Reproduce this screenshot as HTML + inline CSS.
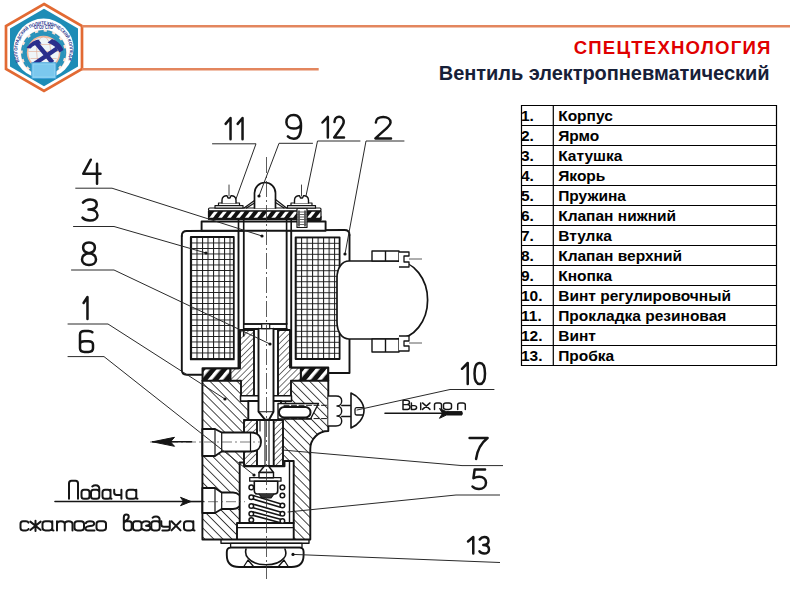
<!DOCTYPE html>
<html><head><meta charset="utf-8">
<style>
html,body{margin:0;padding:0;background:#fff;}
body{width:800px;height:600px;position:relative;overflow:hidden;font-family:"Liberation Sans",sans-serif;}
#art{position:absolute;left:0;top:0;}
.t1{position:absolute;right:28.4px;top:37.1px;font-weight:bold;font-size:18.6px;color:#e00000;letter-spacing:1.2px;white-space:nowrap;line-height:22px;}
.t2{position:absolute;right:30.5px;top:61.8px;font-weight:bold;font-size:20px;color:#172038;letter-spacing:-0.04px;white-space:nowrap;line-height:22px;}
#tbl{position:absolute;left:0;top:0;font-weight:bold;font-size:15.5px;color:#000;}
.r{position:absolute;left:0;height:20px;line-height:20px;white-space:nowrap;}
.r .n{position:absolute;left:521px;top:0;}
.r .v{position:absolute;left:558.2px;top:0;}
</style></head><body>
<svg id="art" width="800" height="600" viewBox="0 0 800 600">
<defs>
<pattern id="hb" patternUnits="userSpaceOnUse" width="6.4" height="6.4" patternTransform="rotate(-45)"><rect width="6.4" height="6.4" fill="#fff"/><line x1="0" y1="0" x2="0" y2="6.4" stroke="#1a1a1a" stroke-width="1.6"/></pattern>
<pattern id="hf" patternUnits="userSpaceOnUse" width="4.4" height="4.4" patternTransform="rotate(45)"><rect width="4.4" height="4.4" fill="#fff"/><line x1="0" y1="0" x2="0" y2="4.4" stroke="#1a1a1a" stroke-width="1.2"/></pattern>
<pattern id="gr" patternUnits="userSpaceOnUse" x="191" y="237" width="5.5" height="5.5"><rect width="5.5" height="5.5" fill="#fff"/><path d="M0.5 0V5.5M0 0.5H5.5" stroke="#1a1a1a" stroke-width="1.05"/></pattern>
<pattern id="gr2" patternUnits="userSpaceOnUse" x="295.6" y="237.3" width="5.5" height="5.5"><rect width="5.5" height="5.5" fill="#fff"/><path d="M0.5 0V5.5M0 0.5H5.5" stroke="#1a1a1a" stroke-width="1.05"/></pattern>
<pattern id="rb" patternUnits="userSpaceOnUse" x="208" y="211" width="7" height="7" patternTransform="rotate(38)"><rect width="7" height="7" fill="#111"/><rect x="0" y="0" width="3" height="7" fill="#fff"/></pattern>
<pattern id="rb2" patternUnits="userSpaceOnUse" width="8.4" height="8.4" patternTransform="rotate(40)"><rect width="8.4" height="8.4" fill="#111"/><rect x="0" y="0" width="3.4" height="8.4" fill="#fff"/></pattern>
</defs>
<!-- logo -->
<g id="logo">
<polygon points="44,4 82,26 82,69 44,91 6,69 6,26" fill="#fff" stroke="#e26a33" stroke-width="2.7"/>
<polygon points="44,8.8 78,28.6 78,66.4 44,86.2 10,66.4 10,28.6" fill="#1d8cb6"/>
<circle cx="43.6" cy="48.6" r="30" fill="#fff"/>
<path id="arc1" d="M19.6,61.6 A26.3,26.3 0 1 1 67.6,61.6" fill="none"/>
<text font-family="Liberation Sans, sans-serif" font-size="4.7" font-weight="bold" fill="#25308a"><textPath href="#arc1" textLength="103" lengthAdjust="spacingAndGlyphs">ВОЛГОГРАДСКИЙ ПОЛИТЕХНИЧЕСКИЙ КОЛЛЕДЖ</textPath></text>
<circle cx="43.6" cy="52.6" r="23.2" fill="#fbe3d8"/>
<circle cx="43.6" cy="52.6" r="21" fill="#2a93bb"/>
<circle cx="43.6" cy="52.6" r="21.6" fill="none" stroke="#2a93bb" stroke-width="2" stroke-dasharray="5.5,3.2"/>
<circle cx="43.6" cy="52.6" r="16.8" fill="#f3b99e"/>
<circle cx="43.6" cy="52.6" r="15.2" fill="#eef5f8"/>
<g stroke="#e0a890" stroke-width="0.6" fill="none">
<ellipse cx="43.6" cy="51.5" rx="7" ry="15"/><path d="M28.5,51.5 H58.7 M30.5,44.5 H56.7 M30.5,58.5 H56.7"/>
</g>
<path d="M35,41.5 L52.5,62.5 M57,48.5 L33.5,64.5" stroke="#2a2f8c" stroke-width="4.4" stroke-linecap="butt"/>
<path d="M26.5,48 C29,44 33,40.5 38.5,39.5 L41.5,43.5 C37,44 33,45.5 30.5,48.5 Z" fill="#2a2f8c"/>
<path d="M47.5,42.5 L52,39 C57,40.5 61.5,44.5 63.5,50 L59.5,52.5 C57.5,48 53.5,45 47.5,42.5 Z" fill="#2a2f8c"/>
<text x="43.6" y="28.8" text-anchor="middle" font-family="Liberation Sans, sans-serif" font-size="4.6" fill="#25308a" font-weight="bold" textLength="19" lengthAdjust="spacingAndGlyphs">ОГОУ СПО</text>
<rect x="31.8" y="62.8" width="24.2" height="15.6" fill="#92d4f3" stroke="#3d9fd8" stroke-width="1"/>
<rect x="33.5" y="64.5" width="20.8" height="12" fill="#68bdea" opacity="0.55"/>
</g>
<path d="M82,26.3 H790" stroke="#e3865e" stroke-width="2.4"/>
<path d="M82,69.2 H318.7" stroke="#e3865e" stroke-width="2.4"/>

<path id="tlines" d="M521,105.5H777M521,125.5H777M521,145.5H777M521,165.5H777M521,185.5H777M521,205.5H777M521,225.5H777M521,245.5H777M521,265.5H777M521,285.5H777M521,305.5H777M521,325.5H777M521,345.5H777M521,365.5H777M521.5,105V366M553.3,105V366M776.5,105V366" stroke="#000" stroke-width="1.2" fill="none"/>
<!-- drawing --><!-- GEN START -->
<g fill="none" stroke="#141414" stroke-width="1.9" stroke-linejoin="round" stroke-linecap="round">
<path d="M202.4,380.6 H328.3 V431 A18,18 0 0 0 310.3,449 V539.5 H202.4 Z" fill="url(#hb)"/>
<rect x="202.5" y="368.2" width="28" height="12.4" fill="url(#rb2)"/>
<rect x="300.8" y="367.5" width="27.5" height="13.1" fill="url(#rb2)"/>
<path d="M240,330 H290 V367.5 H300.8 V380.6 H291 V401 H241 V380.6 H230.5 V368.2 H240 Z" fill="url(#hf)"/>
<rect x="254" y="329" width="24" height="72" fill="#fff"/>
<rect x="240.5" y="395.8" width="51" height="5.2" fill="#fff" stroke-width="1.5"/>
<path d="M248.3,401 H281 V420 H248.3 Z" fill="#fff"/>
<path d="M278,403.5 H318.5 L310.5,419 H278 Z" fill="#fff" stroke-width="1.4"/>
<rect x="279" y="407" width="31.5" height="10.6" rx="5.2" fill="#fff" stroke-width="2"/>
<path d="M284,405.3 H328 M284,418.6 H328" stroke-width="1" stroke-dasharray="5,2.5"/>
<rect x="244" y="420" width="39" height="46" fill="url(#hf)"/>
<rect x="257" y="420" width="16.7" height="46" fill="#fff"/>
<path d="M265,420 V466 M269,420 V466 M260,420 V431" stroke-width="1.1"/>
<path d="M202.4,429 H215 L221.7,432.5 H251 C257.5,432.5 261,436.5 261,442 C261,447.5 257.5,451.5 251,451.5 H221.7 L215,456 H202.4 Z" fill="#fff"/>
<path d="M215,429 V456 M221.7,432.5 V451.5 M250.5,433 V451" stroke-width="1.2"/>
<path d="M202.4,488 H215 L221.7,492.5 H233 C238,492.5 241.5,496 241.5,500.7 C241.5,505.5 238,509 233,509 H221.7 L215,513 H202.4 Z" fill="#fff"/>
<path d="M215,488 V513 M221.7,492.5 V509" stroke-width="1.2"/>
<path d="M239.7,462.5 H244 V466.3 H284.5 V461 H293.7 V523 H239.7 Z" fill="#fff"/>
<path d="M289.5,461 V523" stroke-width="1.4"/>
<rect x="237" y="523" width="56.7" height="16.5" fill="#fff"/>
<path d="M237,527.7 H293.7" stroke-width="1.2"/>
<path d="M258.5,328.7 V411.7 L265,419.7 H269 L273.5,411.7 V328.7" fill="#fff"/>
<path d="M258.5,411.7 H273.5" stroke-width="1.1"/>
<circle cx="251.3" cy="487.4" r="2.3" fill="#fff" stroke-width="1.5"/>
<circle cx="251.3" cy="497.3" r="2.3" fill="#fff" stroke-width="1.5"/>
<circle cx="251.3" cy="506" r="2.3" fill="#fff" stroke-width="1.5"/>
<circle cx="251.3" cy="513.7" r="2.3" fill="#fff" stroke-width="1.5"/>
<circle cx="251.3" cy="520" r="2.3" fill="#fff" stroke-width="1.5"/>
<circle cx="282.4" cy="487.4" r="2.3" fill="#fff" stroke-width="1.5"/>
<circle cx="282.4" cy="495.5" r="2.3" fill="#fff" stroke-width="1.5"/>
<circle cx="282.4" cy="505.5" r="2.3" fill="#fff" stroke-width="1.5"/>
<circle cx="282.4" cy="513.7" r="2.3" fill="#fff" stroke-width="1.5"/>
<circle cx="282.4" cy="521" r="2.3" fill="#fff" stroke-width="1.5"/>
<path d="M253.3,495.5 L280.4,503.7 M253.3,499.1 L280.4,507.3" stroke-width="1.6"/>
<path d="M253.3,504.2 L280.4,511.90000000000003 M253.3,507.8 L280.4,515.5" stroke-width="1.6"/>
<path d="M253.3,511.90000000000003 L280.4,519.2 M253.3,515.5 L280.4,522.8" stroke-width="1.6"/>
<path d="M259,472.5 L264.5,466 H268.5 L273.5,472.5 Z" fill="#fff" stroke-width="1.4"/>
<rect x="249.7" y="477.7" width="31.3" height="3.5" fill="#fff" stroke-width="1.3"/>
<path d="M254.3,481.2 H277.7 V491 Q277.7,494 274.5,494 H257.5 Q254.3,494 254.3,491 Z" fill="#fff" stroke-width="1.6"/>
<path d="M259,494 L262,498 H271 L274,494" fill="#333" stroke-width="1.2"/>
<path d="M259,472.5 H273.5 V477.7 H259Z" fill="#fff" stroke-width="1.4"/>
<rect x="221" y="539.7" width="88" height="3.6" fill="#fff" stroke-width="1.4"/>
<rect x="230.6" y="543.3" width="71.4" height="4" fill="#fff" stroke-width="1.3"/>
<path d="M226.8,552 Q226.8,547.6 231,547.6 H299.5 Q303.6,547.6 303.6,552 V555 Q303.6,567 291.5,567 H239 Q226.8,567 226.8,555 Z" fill="#fff"/>
<path d="M246,549 C245,553 246,556 248,558 C252,563 258,564.8 266,564.8 C274,564.8 280,563 284,558 C286,556 286.5,553 285,549" stroke-width="1.6"/>
<path d="M243.5,567 L248,560 L253.5,566.5 M278.5,566.5 L284,560 L288.5,567" stroke-width="1.3"/>
<path d="M328.3,396 H336 C340,396 341.7,398.5 341.7,401 C341.7,403.5 340,406 337,406 C340,406 341.7,408.5 341.7,411 C341.7,413.5 340,416 337,416 C340,416 341.7,418.5 341.7,421 C341.7,423.5 340,426 336,426 H328.3" fill="#fff" stroke-width="1.4"/>
<path d="M341.7,405.5 H351 M341.7,416.5 H351" stroke-width="1.3"/>
<path d="M351,393 C358,396 364,403 364,410.5 C364,418 358,425 351,428 Z" fill="#fff" stroke-width="1.6"/>
<path d="M362.5,407.6 H356.5 Q355,407.6 355,409.5 V413 Q355,415 356.5,415 H362.5" stroke-width="1.3"/>
<path d="M181.8,236 V370 Q181.8,374.7 186.5,374.7 H202.5 V368.2 H238.5 V231.3" fill="#fff"/>
<path d="M349.5,235 V373 H328.3 V367.5 H291.2 V230.6" fill="#fff"/>
<path d="M181.8,236 Q181.8,231 186.8,231 L344.5,230 Q349.5,230 349.5,235"/>
<rect x="190.8" y="237" width="43" height="122.4" fill="url(#gr)" stroke-width="1.8"/>
<rect x="295.6" y="237.3" width="44" height="121.7" fill="url(#gr2)" stroke-width="1.8"/>
<rect x="243.7" y="224" width="42.9" height="100" fill="#fff" stroke-width="1.4"/>
<path d="M243.7,324 H287 M243.7,328.7 H287" stroke-width="1.3"/>
<rect x="261.7" y="324" width="8" height="4.7" fill="#fff" stroke-width="1.2"/>
<rect x="201.6" y="221.5" width="124" height="9.2" fill="#fff"/>
<path d="M208.5,219.5 H321" stroke-width="1.1"/>
<path d="M238.5,218.5 V231.3 M243.7,218.5 V336 M286.6,218.5 V330 M291.2,218.5 V231.3" stroke-width="1.6"/>
<rect x="308" y="216" width="13" height="4.5" fill="#141414" stroke-width="1"/>
<rect x="208.5" y="210.8" width="112.5" height="7.5" fill="url(#rb)" stroke-width="1.2"/>
<rect x="208.5" y="208" width="112.5" height="2.8" rx="1.2" fill="#fff" stroke-width="1.2"/>
<rect x="297" y="208.5" width="10" height="19" fill="#fff" stroke-width="1.2"/>
<path d="M299,211 V226 M305,211 V226" stroke-width="1.3"/>
<path d="M297.5,212 H306.5 M297.5,214.5 H306.5 M297.5,217 H306.5 M297.5,219.5 H306.5 M297.5,222 H306.5 M297.5,224.5 H306.5" stroke="#555" stroke-width="0.9"/>
<rect x="218.5" y="203" width="21" height="2.6" fill="#fff" stroke-width="1.2"/>
<rect x="215" y="205.6" width="28" height="2.6" fill="#fff" stroke-width="1.2"/>
<path d="M222,203 V200 C222,197 224.5,195.5 227,195.8 L228,198 H230 L231,195.8 C233.5,195.5 236,197 236,200 V203" fill="#fff" stroke-width="1.4"/>
<path d="M229,185 V196" stroke-width="0.8"/>
<rect x="291.0" y="203" width="21" height="2.6" fill="#fff" stroke-width="1.2"/>
<rect x="287.5" y="205.6" width="28" height="2.6" fill="#fff" stroke-width="1.2"/>
<path d="M294.5,203 V200 C294.5,197 297.0,195.5 299.5,195.8 L300.5,198 H302.5 L303.5,195.8 C306.0,195.5 308.5,197 308.5,200 V203" fill="#fff" stroke-width="1.4"/>
<path d="M301.5,185 V196" stroke-width="0.8"/>
<path d="M254.5,208 V193 A10.5,10.5 0 0 1 275.5,193 V208" fill="#fff" stroke-width="1.7"/>
<path d="M244,208 L254.5,200.5 M246.5,208 L254.5,203 M286.5,208 L275.5,199.5 M284,208 L275.5,202.5" stroke-width="1.2"/>
</g>
<path d="M266.5,157 V579" stroke="#333" stroke-width="0.8" stroke-dasharray="16,3,2,3" fill="none"/>
<path d="M150,442 H262 M190,501.7 H245" stroke="#444" stroke-width="0.7" stroke-dasharray="10,3,2,3" fill="none"/>
<g fill="#fff" stroke="#141414" stroke-width="1.7" stroke-linejoin="round">
<path d="M349,261 H396 C414,261 427.6,279 427.6,300 C427.6,321 414,339 396,339 H349 C342,339 337,332 337,322 V278 C337,268 342,261 349,261 Z"/>
<path d="M372,251 H399 V261 H372 Z M385.5,251 V261 M372,339 H399 V352 H372 Z M385.5,339 V352" stroke-width="1.4"/>
<path d="M399,252 H409 V256 H404 V262 H409 V267 H399 M399,336 H409 V341 H404 V346 H409 V351 H399" stroke-width="1.3"/>
</g>
<path d="M409,259 H422 M409,343 H422" stroke="#333" stroke-width="0.8" fill="none"/>
<g fill="none" stroke="#151515" stroke-linecap="round" stroke-linejoin="round">
<path d="M1.5,5.5 L7,0 V20" transform="translate(224.30,118.00) scale(0.889,1.065)" vector-effect="non-scaling-stroke" stroke-width="2.5"/>
<path d="M1.5,5.5 L7,0 V20" transform="translate(236.31,118.00) scale(0.889,1.065)" vector-effect="non-scaling-stroke" stroke-width="2.5"/>
<path d="M1,18 C2,19.4 3.4,20 5,20 C8.4,20 10,15.8 10,9 C10,2.8 8,0 5,0 C2,0 0,2.4 0,6 C0,9.4 2,11.4 5,11.4 C7.4,11.4 9.4,10 10,7.8" transform="translate(286.40,115.00) scale(1.460,1.190)" vector-effect="non-scaling-stroke" stroke-width="2.5"/>
<path d="M1.5,5.5 L7,0 V20" transform="translate(321.00,116.80) scale(0.979,1.035)" vector-effect="non-scaling-stroke" stroke-width="2.5"/>
<path d="M0.3,5 C0.3,1.8 2.5,0 5,0 C7.7,0 9.7,2 9.7,5 C9.7,8.5 6,11.5 0,20 H10" transform="translate(334.21,116.80) scale(0.979,1.035)" vector-effect="non-scaling-stroke" stroke-width="2.5"/>
<path d="M0.3,5 C0.3,1.8 2.5,0 5,0 C7.7,0 9.7,2 9.7,5 C9.7,8.5 6,11.5 0,20 H10" transform="translate(375.40,117.00) scale(1.560,1.075)" vector-effect="non-scaling-stroke" stroke-width="2.5"/>
<path d="M4.4,0 L0,11.7 H10 M8,3.3 V20" transform="translate(83.20,159.70) scale(1.730,1.200)" vector-effect="non-scaling-stroke" stroke-width="2.5"/>
<path d="M0.3,3 C1.5,1 3,0 5,0 C8,0 9.5,2 9.5,4.8 C9.5,7.6 7.5,9.6 4,9.6 C8,9.6 10,12 10,15 C10,18.2 7.6,20 5,20 C2.8,20 1,19 0,17.3" transform="translate(82.50,199.50) scale(1.500,1.050)" vector-effect="non-scaling-stroke" stroke-width="2.5"/>
<path d="M5,0 C2.2,0 0.8,2 0.8,4.7 C0.8,7.5 2.6,9 5,9.5 C8,10 10,12 10,15 C10,18 8,20 5,20 C2,20 0,18 0,15 C0,12 2,10 5,9.5 C7.4,9 9.2,7.5 9.2,4.7 C9.2,2 7.8,0 5,0Z" transform="translate(82.00,242.50) scale(1.400,1.125)" vector-effect="non-scaling-stroke" stroke-width="2.5"/>
<path d="M1.5,5.5 L7,0 V20" transform="translate(82.50,297.00) scale(0.710,1.100)" vector-effect="non-scaling-stroke" stroke-width="2.5"/>
<path d="M9.5,1.2 Q8.5,0 6.5,0 H3.5 Q0,0 0,3.5 V16.5 Q0,20 3.5,20 H6.5 Q10,20 10,16.5 V13.2 Q10,9.7 6.5,9.7 H3.5 Q0,9.7 0,12.5" transform="translate(80.00,331.00) scale(1.300,1.050)" vector-effect="non-scaling-stroke" stroke-width="2.5"/>
<path d="M1.5,5.5 L7,0 V20" transform="translate(460.40,363.00) scale(1.047,1.050)" vector-effect="non-scaling-stroke" stroke-width="2.5"/>
<path d="M5,0 C1.2,0 0,4 0,10 C0,16 1.2,20 5,20 C8.8,20 10,16 10,10 C10,4 8.8,0 5,0Z" transform="translate(474.53,363.00) scale(1.047,1.050)" vector-effect="non-scaling-stroke" stroke-width="2.5"/>
<path d="M0,0 H10 C6.2,5 4.2,12 3.6,20" transform="translate(469.60,438.00) scale(1.800,1.050)" vector-effect="non-scaling-stroke" stroke-width="2.5"/>
<path d="M9.3,0 H1.6 L0.7,9 C2,8 3.5,7.4 5,7.4 C8,7.4 10,10 10,13.6 C10,17.6 7.6,20 4.8,20 C2.6,20 1,19 0,17.4" transform="translate(472.50,469.50) scale(1.350,0.975)" vector-effect="non-scaling-stroke" stroke-width="2.5"/>
<path d="M1.5,5.5 L7,0 V20" transform="translate(466.60,537.00) scale(0.953,0.825)" vector-effect="non-scaling-stroke" stroke-width="2.5"/>
<path d="M0.3,3 C1.5,1 3,0 5,0 C8,0 9.5,2 9.5,4.8 C9.5,7.6 7.5,9.6 4,9.6 C8,9.6 10,12 10,15 C10,18.2 7.6,20 5,20 C2.8,20 1,19 0,17.3" transform="translate(479.47,537.00) scale(0.953,0.825)" vector-effect="non-scaling-stroke" stroke-width="2.5"/>
</g>
<g fill="none" stroke="#2a2a2a" stroke-width="1" stroke-linecap="round">
<path d="M212.5,143.8H256L236,199"/>
<path d="M312.5,143.3H279L259,196"/>
<path d="M360,141H317.5L306,196"/>
<path d="M404,141H366L345,254"/>
<path d="M75.7,188.2H112L262,236"/>
<path d="M73.5,226.5H114L206,253"/>
<path d="M71.5,270H114L270,344"/>
<path d="M68,324H108L225,399"/>
<path d="M68,356.6H104L254,475"/>
<path d="M494,389.5H450L357,410"/>
<path d="M502.6,465.6H462L282,450"/>
<path d="M499.6,495H456L288,512"/>
<path d="M499.6,562.5L293,554.4"/>
</g>
<g fill="#111">
<circle cx="262" cy="236" r="1.6"/>
<circle cx="206" cy="253" r="1.6"/>
<circle cx="270" cy="344" r="1.6"/>
<circle cx="225" cy="399" r="1.6"/>
<circle cx="293" cy="554.4" r="1.6"/>
<circle cx="259" cy="196" r="1.6"/>
<circle cx="345" cy="254" r="1.6"/>
<circle cx="254" cy="475" r="1.6"/>
</g>
<g fill="none" stroke="#151515" stroke-width="1.6" stroke-linecap="round">
<path d="M152.5,441.8 H191.5"/>
<path d="M55,501.5 H203"/>
<path d="M385,413.3 H447 M447,413.3 H462" />
</g>
<g fill="#151515" stroke="#151515" stroke-width="1" stroke-linejoin="round">
<path d="M152.5,441.8 L174.5,437.3 L170.5,441.8 L174.5,446.3 Z"/>
<path d="M191,501.5 L180.5,497.3 L183.5,501.5 L180.5,505.7 Z"/>
<path d="M450,413.3 L439.5,408.5 L442.5,413.3 L439.5,418.3 Z"/>
<path d="M447,411.6 H462 V415 H447Z"/>
</g>
<g fill="none" stroke="#161616" stroke-linecap="round" stroke-linejoin="round">
<path d="M0,0 V-15.5 Q0,-18 2.5,-18 H6.5 Q9,-18 9,-15.5 V0" transform="translate(69.00,498.80) scale(1.000,1.000)" vector-effect="non-scaling-stroke" stroke-width="2.0"/>
<path d="M2.5,-9 H5.5 Q8,-9 8,-6.5 V-2.5 Q8,0 5.5,0 H2.5 Q0,0 0,-2.5 V-6.5 Q0,-9 2.5,-9 Z" transform="translate(81.50,498.80) scale(1.000,1.000)" vector-effect="non-scaling-stroke" stroke-width="2.0"/>
<path d="M8,-6.5 Q8,-9 5.5,-9 H2.5 Q0,-9 0,-6.5 V-2.5 Q0,0 2.5,0 H5.5 Q8,0 8,-2.5 V-10 Q8,-13.5 4.5,-13.5 Q2.5,-13.5 1.2,-12.4" transform="translate(91.00,498.80) scale(1.037,1.000)" vector-effect="non-scaling-stroke" stroke-width="2.0"/>
<path d="M8,-6.5 Q8,-9 5.5,-9 H2.5 Q0,-9 0,-6.5 V-2.5 Q0,0 2.5,0 H5.5 Q8,0 8,-2.5 M8,-9 V-1.2 Q8,0 9,0" transform="translate(102.50,498.80) scale(1.000,1.000)" vector-effect="non-scaling-stroke" stroke-width="2.0"/>
<path d="M0,-9 V-6.2 Q0,-3.8 2.5,-3.8 H8 M8,-9 V0" transform="translate(114.20,498.80) scale(0.900,1.000)" vector-effect="non-scaling-stroke" stroke-width="2.0"/>
<path d="M8,-6.5 Q8,-9 5.5,-9 H2.5 Q0,-9 0,-6.5 V-2.5 Q0,0 2.5,0 H5.5 Q8,0 8,-2.5 M8,-9 V-1.2 Q8,0 9,0" transform="translate(126.50,498.80) scale(1.222,1.000)" vector-effect="non-scaling-stroke" stroke-width="2.0"/>
<path d="M8,-7.6 Q7.5,-9 5.5,-9 H2.5 Q0,-9 0,-6.5 V-2.5 Q0,0 2.5,0 H5.5 Q7.5,0 8,-1.4" transform="translate(20.50,530.40) scale(1.000,1.022)" vector-effect="non-scaling-stroke" stroke-width="2.0"/>
<path d="M5.5,-9.5 V0.5 M0.3,-8.6 L10.7,-0.4 M10.7,-8.6 L0.3,-0.4" transform="translate(30.00,530.40) scale(1.000,1.022)" vector-effect="non-scaling-stroke" stroke-width="2.0"/>
<path d="M8,-6.5 Q8,-9 5.5,-9 H2.5 Q0,-9 0,-6.5 V-2.5 Q0,0 2.5,0 H5.5 Q8,0 8,-2.5 M8,-9 V-1.2 Q8,0 9,0" transform="translate(42.50,530.40) scale(1.222,1.022)" vector-effect="non-scaling-stroke" stroke-width="2.0"/>
<path d="M0,0 V-9 M0,-6.5 Q0,-9 3,-9 Q6,-9 6,-6.5 V0 M6,-6.5 Q6,-9 9,-9 Q12,-9 12,-6.5 V0" transform="translate(57.00,530.40) scale(1.292,1.022)" vector-effect="non-scaling-stroke" stroke-width="2.0"/>
<path d="M2.5,-9 H5.5 Q8,-9 8,-6.5 V-2.5 Q8,0 5.5,0 H2.5 Q0,0 0,-2.5 V-6.5 Q0,-9 2.5,-9 Z" transform="translate(74.50,530.40) scale(1.188,1.022)" vector-effect="non-scaling-stroke" stroke-width="2.0"/>
<path d="M0.3,-7 Q0.8,-9 4,-9 Q7.7,-9 7.7,-6.6 Q7.7,-4.6 4,-4.2 Q0,-3.8 0,-1.6 Q0,0 2.2,0 H8" transform="translate(85.50,530.40) scale(1.125,1.022)" vector-effect="non-scaling-stroke" stroke-width="2.0"/>
<path d="M2.5,-9 H5.5 Q8,-9 8,-6.5 V-2.5 Q8,0 5.5,0 H2.5 Q0,0 0,-2.5 V-6.5 Q0,-9 2.5,-9 Z" transform="translate(96.50,530.40) scale(1.188,1.022)" vector-effect="non-scaling-stroke" stroke-width="2.0"/>
<path d="M0,-6.5 Q0,-9 2.5,-9 H5.5 Q8,-9 8,-6.5 V-2.5 Q8,0 5.5,0 H2.5 Q0,0 0,-2.5 Z M0,-6.5 V-12.5 Q0,-15.5 2.5,-15.5 Q5,-15.5 5,-13.3 Q5,-11 1.5,-9" transform="translate(123.80,530.40) scale(0.987,1.022)" vector-effect="non-scaling-stroke" stroke-width="2.0"/>
<path d="M2.5,-9 H5.5 Q8,-9 8,-6.5 V-2.5 Q8,0 5.5,0 H2.5 Q0,0 0,-2.5 V-6.5 Q0,-9 2.5,-9 Z" transform="translate(133.00,530.40) scale(1.062,1.022)" vector-effect="non-scaling-stroke" stroke-width="2.0"/>
<path d="M0,-7.6 Q0.6,-9 3.6,-9 Q7.5,-9 7.5,-6.9 Q7.5,-4.6 3.6,-4.6 Q8,-4.6 8,-2.3 Q8,0 4,0 Q0.6,0 0,-1.4" transform="translate(142.50,530.40) scale(0.988,1.022)" vector-effect="non-scaling-stroke" stroke-width="2.0"/>
<path d="M8,-6.5 Q8,-9 5.5,-9 H2.5 Q0,-9 0,-6.5 V-2.5 Q0,0 2.5,0 H5.5 Q8,0 8,-2.5 V-10 Q8,-13.5 4.5,-13.5 Q2.5,-13.5 1.2,-12.4" transform="translate(151.30,530.40) scale(1.050,1.022)" vector-effect="non-scaling-stroke" stroke-width="2.0"/>
<path d="M0,-9 V-5.8 Q0,-3.6 2.5,-3.6 H8 M8,-9 V-2.2 Q8,0 5.5,0 H1" transform="translate(161.30,530.40) scale(1.062,1.022)" vector-effect="non-scaling-stroke" stroke-width="2.0"/>
<path d="M0,-9 L8,0 M8,-9 L0,0" transform="translate(171.50,530.40) scale(1.125,1.022)" vector-effect="non-scaling-stroke" stroke-width="2.0"/>
<path d="M8,-6.5 Q8,-9 5.5,-9 H2.5 Q0,-9 0,-6.5 V-2.5 Q0,0 2.5,0 H5.5 Q8,0 8,-2.5 M8,-9 V-1.2 Q8,0 9,0" transform="translate(184.00,530.40) scale(1.167,1.022)" vector-effect="non-scaling-stroke" stroke-width="2.0"/>
<path d="M0,0 V-12.5 H4.4 Q7.4,-12.5 7.4,-9.6 Q7.4,-6.6 4.2,-6.6 H0 M4.2,-6.6 H5 Q8,-6.6 8,-3.3 Q8,0 5,0 H0" transform="translate(403.00,409.40) scale(0.875,0.722)" vector-effect="non-scaling-stroke" stroke-width="1.45"/>
<path d="M0,-9 V0 H3 Q5.6,0 5.6,-2.6 Q5.6,-5.2 3,-5.2 H0 M10,-9 V0" transform="translate(411.40,409.40) scale(0.930,0.722)" vector-effect="non-scaling-stroke" stroke-width="1.45"/>
<path d="M0,-9 L8,0 M8,-9 L0,0" transform="translate(422.50,409.40) scale(0.938,0.722)" vector-effect="non-scaling-stroke" stroke-width="1.45"/>
<path d="M0,0 V-6.5 Q0,-9 2.5,-9 H5.5 Q8,-9 8,-6.5 V0" transform="translate(434.50,409.40) scale(0.875,0.722)" vector-effect="non-scaling-stroke" stroke-width="1.45"/>
<path d="M2.5,-9 H5.5 Q8,-9 8,-6.5 V-2.5 Q8,0 5.5,0 H2.5 Q0,0 0,-2.5 V-6.5 Q0,-9 2.5,-9 Z" transform="translate(443.50,409.40) scale(1.000,0.722)" vector-effect="non-scaling-stroke" stroke-width="1.45"/>
<path d="M0,0 V-6.5 Q0,-9 2.5,-9 H5.5 Q8,-9 8,-6.5 V0" transform="translate(457.70,409.40) scale(0.950,0.722)" vector-effect="non-scaling-stroke" stroke-width="1.45"/>
</g>
<!-- GEN END -->
<g id="drawing" fill="none" stroke="#111" stroke-width="1.6" stroke-linecap="round" stroke-linejoin="round">
</g>
</svg>
<div class="t1">СПЕЦТЕХНОЛОГИЯ</div>
<div class="t2">Вентиль электропневматический</div>
<div id="tbl">
<div class="r" style="top:105.5px"><span class="n">1.</span><span class="v">Корпус</span></div>
<div class="r" style="top:125.5px"><span class="n">2.</span><span class="v">Ярмо</span></div>
<div class="r" style="top:145.5px"><span class="n">3.</span><span class="v">Катушка</span></div>
<div class="r" style="top:165.5px"><span class="n">4.</span><span class="v">Якорь</span></div>
<div class="r" style="top:185.5px"><span class="n">5.</span><span class="v">Пружина</span></div>
<div class="r" style="top:205.5px"><span class="n">6.</span><span class="v">Клапан нижний</span></div>
<div class="r" style="top:225.5px"><span class="n">7.</span><span class="v">Втулка</span></div>
<div class="r" style="top:245.5px"><span class="n">8.</span><span class="v">Клапан верхний</span></div>
<div class="r" style="top:265.5px"><span class="n">9.</span><span class="v">Кнопка</span></div>
<div class="r" style="top:285.5px"><span class="n">10.</span><span class="v">Винт регулировочный</span></div>
<div class="r" style="top:305.5px"><span class="n">11.</span><span class="v">Прокладка резиновая</span></div>
<div class="r" style="top:325.5px"><span class="n">12.</span><span class="v">Винт</span></div>
<div class="r" style="top:345.5px"><span class="n">13.</span><span class="v">Пробка</span></div>
</div>
</body></html>
